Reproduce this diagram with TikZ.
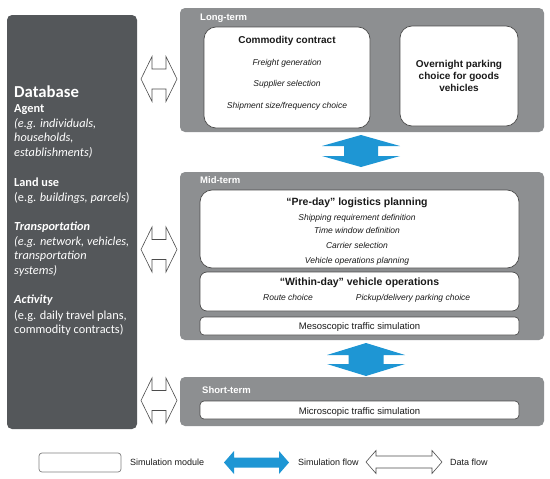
\documentclass[tikz,border=0pt]{standalone}
\usepackage{fontspec}
\setmainfont{Liberation Sans}
\newfontfamily\dbfont{Carlito}
\definecolor{dbgray}{HTML}{54575A}
\definecolor{panelgray}{HTML}{8D8F91}
\definecolor{flowblue}{HTML}{1E96D4}
\definecolor{edgegray}{HTML}{4D4D4D}
\definecolor{txt}{HTML}{1A1A1A}
\begin{document}
\begin{tikzpicture}[x=1pt,y=-1pt,
 panel/.style={fill=panelgray, draw=none, rounded corners=5pt, minimum width=364pt, inner sep=0},
 module/.style={fill=white, draw=edgegray, line width=0.7pt, inner sep=0},
 lbl/.style={font=\bfseries\fontsize{9.5}{11}\selectfont, text=white, anchor=base west, inner sep=0},
 ttl/.style={font=\bfseries\fontsize{10}{12}\selectfont, text=txt, anchor=base, inner sep=0},
 itm/.style={font=\itshape\fontsize{8.5}{10}\selectfont, text=txt, anchor=base, inner sep=0},
 plain/.style={font=\fontsize{9.5}{11}\selectfont, text=txt, anchor=base, inner sep=0},
 dbt/.style={font=\dbfont\fontsize{12.3}{14}\selectfont, text=white, anchor=base west, inner sep=0},
 dbb/.style={dbt, font=\dbfont\bfseries\fontsize{12.3}{14}\selectfont},
 dbbi/.style={dbt, font=\dbfont\bfseries\itshape\fontsize{12.3}{14}\selectfont},
 leg/.style={font=\fontsize{9}{11}\selectfont, text=txt, anchor=base west, inner sep=0},
 pics/harrow/.style n args={4}{code={\path[pic actions] (-#1,0) -- (-#1+#2,-#3) -- (-#1+#2,-#4) -- (#1-#2,-#4) -- (#1-#2,-#3) -- (#1,0) -- (#1-#2,#3) -- (#1-#2,#4) -- (-#1+#2,#4) -- (-#1+#2,#3) -- cycle;}},
 pics/varrow/.style n args={4}{code={\path[pic actions] (0,-#1) -- (#3,-#1+#2) -- (#4,-#1+#2) -- (#4,#1-#2) -- (#3,#1-#2) -- (0,#1) -- (-#3,#1-#2) -- (-#4,#1-#2) -- (-#4,-#1+#2) -- (-#3,-#1+#2) -- cycle;}},
]
\useasboundingbox (0,0) rectangle (550,479);
\fill[white] (0,0) rectangle (550,479);

% Database
\node[fill=dbgray, rounded corners=5pt, minimum width=130pt, minimum height=414pt, inner sep=0] (db) at (72,222) {};
\node[dbt, font=\dbfont\bfseries\fontsize{16.7}{18}\selectfont] (dbtitle) at (14,97) {Database};
\node[dbb] (d1) at (14,112) {Agent};
\node[dbt] (d2) at (14,127) {\itshape (e.g. individuals,};
\node[dbt] (d3) at (14,141) {\itshape households,};
\node[dbt] (d4) at (14,156) {\itshape establishments)};
\node[dbb] (d5) at (14,186) {Land use};
\node[dbt] (d6) at (14,201) {(e.g. \textit{buildings, parcels})};
\node[dbbi] (d7) at (14,230) {Transportation};
\node[dbt] (d8) at (14,245) {\itshape (e.g. network, vehicles,};
\node[dbt] (d9) at (14,259) {\itshape transportation};
\node[dbt] (d10) at (14,274) {\itshape systems)};
\node[dbbi] (d11) at (14,303) {Activity};
\node[dbt] (d12) at (14,319) {(e.g. daily travel plans,};
\node[dbt] (d13) at (14,333) {commodity contracts)};

% Long-term
\node[panel, minimum height=124pt] (long) at (362,70) {};
\node[lbl] (longlbl) at (200,20.3) {Long-term};
\node[module, rounded corners=12pt, minimum width=166pt, minimum height=101pt] (cc) at (287,77.5) {};
\node[ttl] (cct) at (287,44) {Commodity contract};
\node[itm] (cc1) at (287,65.3) {Freight generation};
\node[itm] (cc2) at (287,86.3) {Supplier selection};
\node[itm] (cc3) at (287,108) {Shipment size/frequency choice};
\node[module, rounded corners=12pt, minimum width=118pt, minimum height=100pt] (on) at (459,76) {};
\node[ttl] (on1) at (459,67.5) {Overnight parking};
\node[ttl] (on2) at (459,79.5) {choice for goods};
\node[ttl] (on3) at (459,91.5) {vehicles};

% Simulation flow 1
\pic[fill=flowblue] (sf1) at (361,151) {varrow={16}{11}{39}{17}};

% Mid-term
\node[panel, minimum height=168pt] (mid) at (362,256) {};
\node[lbl] (midlbl) at (200,183.5) {Mid-term};
\node[module, rounded corners=12pt, minimum width=319pt, minimum height=78pt] (pre) at (359.5,229) {};
\node[ttl, font=\bfseries\fontsize{10.5}{12}\selectfont] (pret) at (357,205.5) {“Pre-day” logistics planning};
\node[itm] (pre1) at (357,220.3) {Shipping requirement definition};
\node[itm] (pre2) at (357,233.7) {Time window definition};
\node[itm] (pre3) at (357,248) {Carrier selection};
\node[itm] (pre4) at (357,263) {Vehicle operations planning};
\node[module, rounded corners=7pt, minimum width=319pt, minimum height=39pt] (within) at (359.5,291.5) {};
\node[ttl, font=\bfseries\fontsize{10.5}{12}\selectfont] (wt) at (359.5,285.8) {“Within-day” vehicle operations};
\node[itm] (w1) at (288,300.7) {Route choice};
\node[itm] (w2) at (413,300.7) {Pickup/delivery parking choice};
\node[module, rounded corners=4pt, minimum width=319pt, minimum height=18pt] (meso) at (359.5,326) {};
\node[plain] (mesot) at (359.5,329.3) {Mesoscopic traffic simulation};

% Simulation flow 2
\pic[fill=flowblue] (sf2) at (366,359.5) {varrow={16.5}{12}{39}{17.5}};

% Short-term
\node[panel, minimum height=49pt] (short) at (362,401.5) {};
\node[lbl] (shortlbl) at (202,393.5) {Short-term};
\node[module, rounded corners=4pt, minimum width=319pt, minimum height=18pt] (micro) at (359.5,410) {};
\node[plain] (microt) at (359.5,414) {Microscopic traffic simulation};

% Data flows
\pic[draw=edgegray, fill=white, line width=0.6pt] (df1) at (159,79) {harrow={18}{11}{22.5}{10}};
\pic[draw=edgegray, fill=white, line width=0.6pt] (df2) at (159,249.5) {harrow={18}{11}{22.5}{10}};
\pic[draw=edgegray, fill=white, line width=0.6pt] (df3) at (159,400.5) {harrow={18}{11}{22.5}{10}};

% Legend
\node[module, draw=gray, rounded corners=3pt, minimum width=82pt, minimum height=19pt] (legbox) at (80,462.5) {};
\node[leg] (l1) at (130,465) {Simulation module};
\pic[fill=flowblue] (legsf) at (256.5,462.5) {harrow={32.5}{10}{11.5}{5}};
\node[leg] (l2) at (298,465) {Simulation flow};
\pic[draw=edgegray, fill=white, line width=0.6pt] (legdf) at (404,462) {harrow={38}{10}{11.5}{6}};
\node[leg] (l3) at (450,465) {Data flow};
\end{tikzpicture}
\end{document}
